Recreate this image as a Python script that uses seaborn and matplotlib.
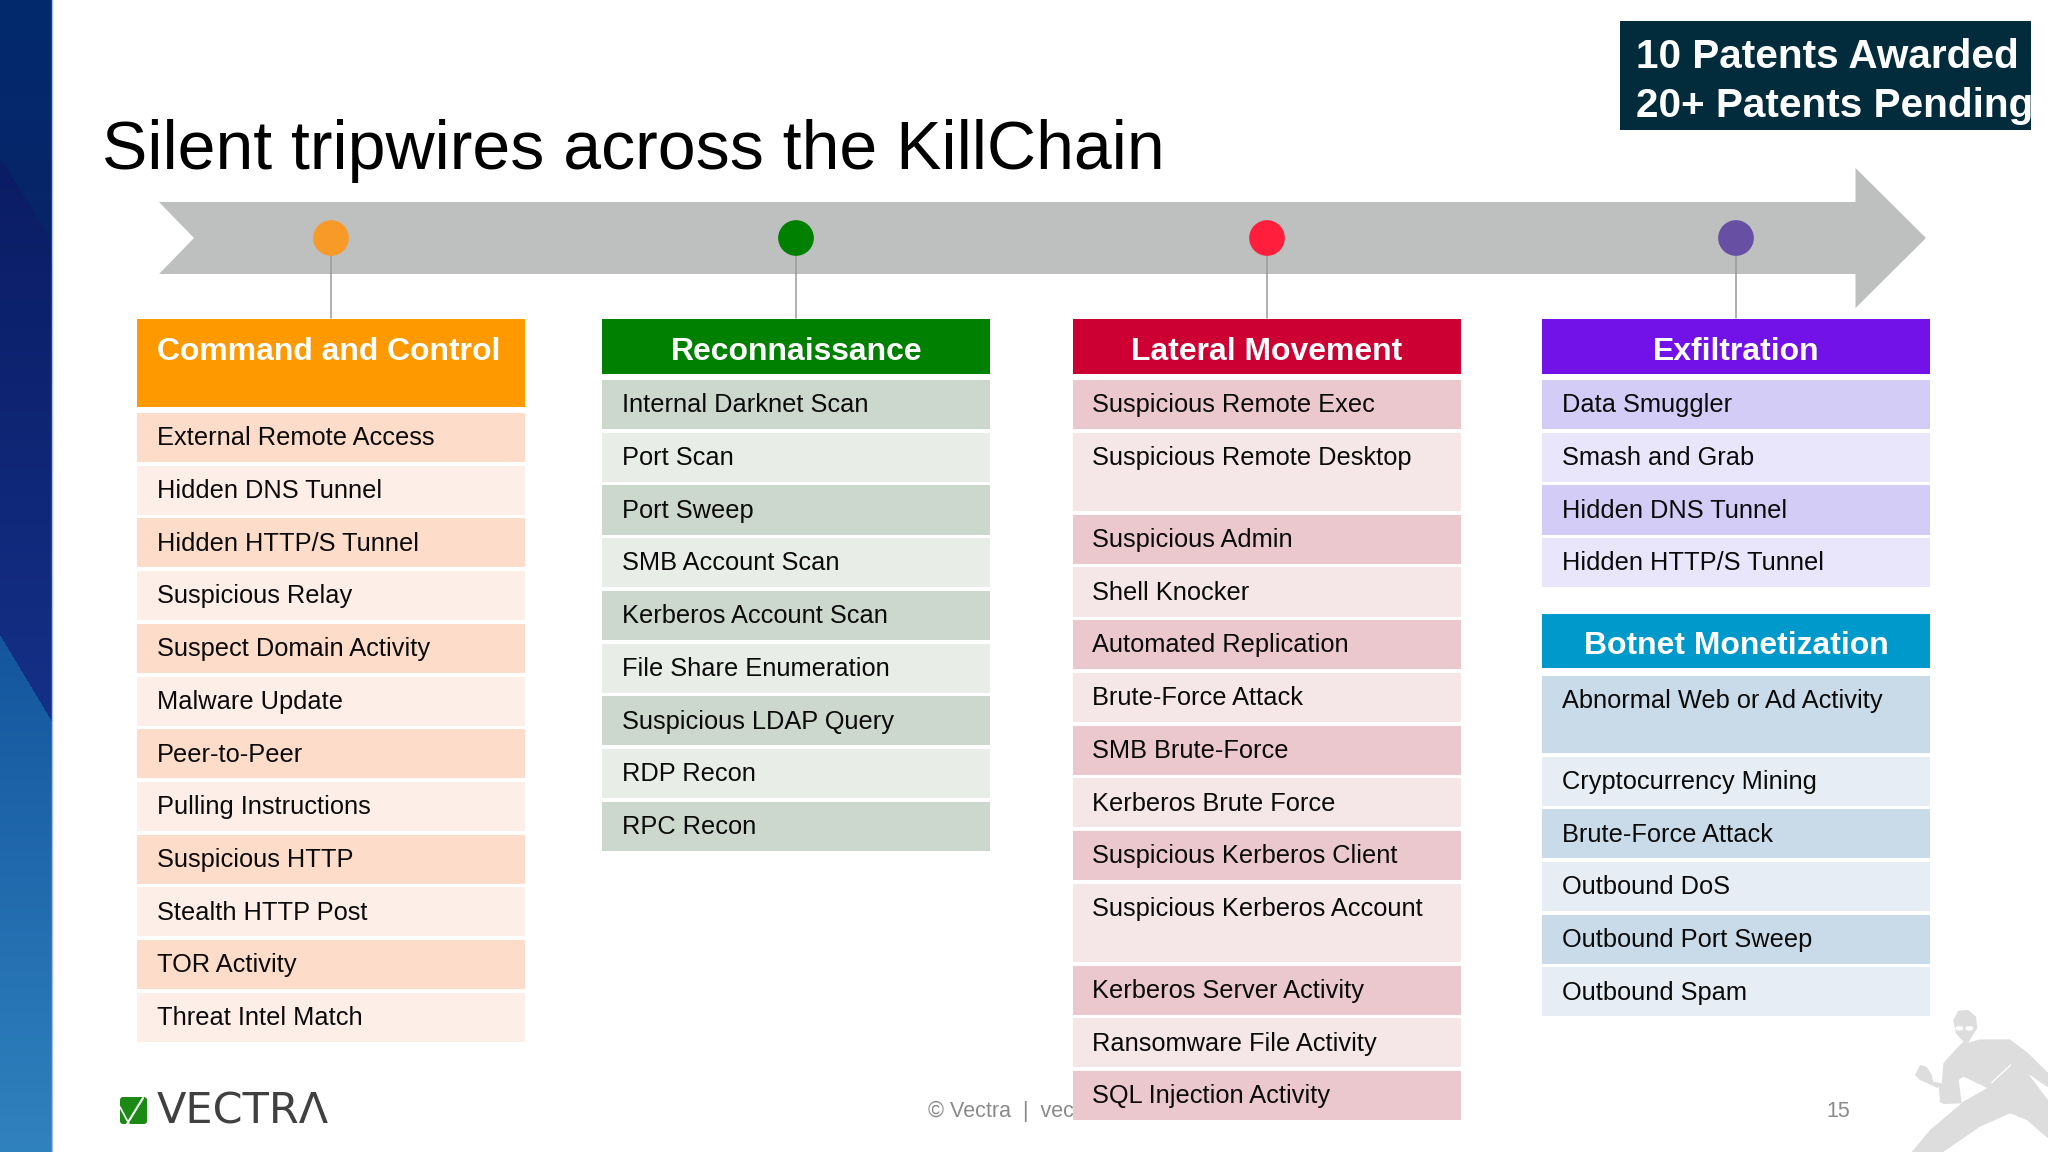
import numpy as np
import pandas as pd
import matplotlib
matplotlib.use("Agg")
import matplotlib.pyplot as plt
from matplotlib.patches import Polygon, Ellipse, FancyBboxPatch
import seaborn as sns

TITLE = "Silent tripwires across the KillChain"
PATENTS = ["10 Patents Awarded", "20+ Patents Pending"]

command_control = ["External Remote Access", "Hidden DNS Tunnel", "Hidden HTTP/S Tunnel", "Suspicious Relay",
                   "Suspect Domain Activity", "Malware Update", "Peer-to-Peer", "Pulling Instructions",
                   "Suspicious HTTP", "Stealth HTTP Post", "TOR Activity", "Threat Intel Match"]
reconnaissance = ["Internal Darknet Scan", "Port Scan", "Port Sweep", "SMB Account Scan", "Kerberos Account Scan",
                  "File Share Enumeration", "Suspicious LDAP Query", "RDP Recon", "RPC Recon"]
lateral_movement = ["Suspicious Remote Exec", "Suspicious Remote Desktop", "Suspicious Admin", "Shell Knocker",
                    "Automated Replication", "Brute-Force Attack", "SMB Brute-Force", "Kerberos Brute Force",
                    "Suspicious Kerberos Client", "Suspicious Kerberos Account", "Kerberos Server Activity",
                    "Ransomware File Activity", "SQL Injection Activity"]
exfiltration = ["Data Smuggler", "Smash and Grab", "Hidden DNS Tunnel", "Hidden HTTP/S Tunnel"]
botnet = ["Abnormal Web or Ad Activity", "Cryptocurrency Mining", "Brute-Force Attack", "Outbound DoS",
          "Outbound Port Sweep", "Outbound Spam"]
tall_rows = {"Suspicious Remote Desktop": 82, "Suspicious Kerberos Account": 82, "Abnormal Web or Ad Activity": 80.5}

# name, rows, left, header top, header height, row start, header colour, dark band, light band, centred title
groups = [
    ("Command and Control", command_control, 137, 319, 88, 413, "#FF9900", "#FDDCC9", "#FEEEE8", False),
    ("Reconnaissance", reconnaissance, 602, 319, 54.5, 380, "#008000", "#CCD8CE", "#E9EDE8", True),
    ("Lateral Movement", lateral_movement, 1072.5, 319, 54.5, 380, "#CC0033", "#EAC8CE", "#F5E6E8", True),
    ("Exfiltration", exfiltration, 1542, 319, 54.5, 380, "#7211E8", "#D3CCF6", "#E9E6FB", True),
    ("Botnet Monetization", botnet, 1542, 614, 54, 676, "#0099CC", "#C9DAE8", "#E7EDF5", True),
]
COL_W = 388
PITCH = 52.7
GAP = 3.6

dots = pd.DataFrame({"x": [331, 796, 1267, 1736], "y": [238] * 4,
                     "c": ["#F79A27", "#008000", "#FF1F3D", "#6750A4"]})

sns.set_theme(style="white")
plt.rcParams["font.family"] = ["Liberation Sans", "DejaVu Sans"]

fig = plt.figure(figsize=(20.48, 11.52), dpi=100, facecolor="white")
ax = fig.add_axes([0, 0, 1, 1])
ax.set_axis_off()


def bar(y0, h, x0, w, color, z=2):
    sns.barplot(x=[w], y=[y0 + h / 2], orient="y", native_scale=True, width=h, left=x0,
                color=color, saturation=1, linewidth=0, errorbar=None, zorder=z, ax=ax)


# left band
H = 1152
yy, xx = np.mgrid[0:H, 0:52]
def lerp(a, b, t):
    return np.asarray(a)[None, None, :] * (1 - t[..., None]) + np.asarray(b)[None, None, :] * t[..., None]
upper = lerp((3, 42, 110), (8, 36, 104), np.clip(yy / 240, 0, 1))
mid = lerp((10, 28, 100), (20, 48, 135), np.clip((yy - 160) / 560, 0, 1))
low = lerp((20, 86, 158), (48, 130, 190), np.clip((yy - 640) / 512, 0, 1))
img = upper.copy()
m1 = yy > 158 + (239 - 158) * xx / 51
m2 = yy > 635 + (720 - 635) * xx / 51
img[m1] = mid[m1]
img[m2] = low[m2]
ax.imshow(img / 255, extent=(0, 52, 1152, 0), aspect="auto", zorder=1, interpolation="bilinear")
ax.plot([51.5, 51.5], [0, 1152], color="#A8BEE0", lw=1, zorder=1.5)

# arrow
ax.add_patch(Polygon([(159, 202), (1855.5, 202), (1855.5, 168), (1926, 238), (1855.5, 308), (1855.5, 274),
                      (159, 274), (194, 238)], closed=True, fc="#BEBFBF", ec="none", zorder=2))

# connectors and dots
for x in dots["x"]:
    ax.plot([x, x], [250, 318], color="#9A9A9A", lw=1.1, zorder=3)
sns.scatterplot(data=dots, x="x", y="y", hue="c", palette=dict(zip(dots["c"], dots["c"])), s=660, linewidth=0,
                legend=False, zorder=4, ax=ax)

# footer behind rows
ax.text(928, 1117, "\u00a9 Vectra  |  vec", fontsize=15.5, color="#8A8A8A", va="baseline", zorder=1.6)
ax.text(1838, 1117, "15", fontsize=15.5, color="#8A8A8A", ha="center", va="baseline", zorder=1.6)

# tables
for name, rows, x0, htop, hh, ystart, hc, dark, light, centred in groups:
    bar(htop, hh, x0, COL_W, hc)
    if centred:
        ax.text(x0 + COL_W / 2 + 0.5, htop + 40.5, name, fontsize=22.95, fontweight="bold", color="white",
                ha="center", va="baseline", zorder=5)
    else:
        ax.text(x0 + 20, htop + 40.5, name, fontsize=22.95, fontweight="bold", color="white",
                ha="left", va="baseline", zorder=5)
    y = ystart
    for i, label in enumerate(rows):
        step = tall_rows.get(label, PITCH)
        bar(y, step - GAP, x0, COL_W, dark if i % 2 == 0 else light)
        ax.text(x0 + 20, y + 32.3, label, fontsize=18.3, color="#0A0A0A", ha="left", va="baseline", zorder=5)
        y += step

# title
ax.text(101.5, 169, TITLE, fontsize=49, color="black", ha="left", va="baseline", zorder=5)

# patents box
bar(21, 109, 1620, 411, "#022C3C")
ax.text(1636, 68, PATENTS[0], fontsize=29.2, fontweight="bold", color="white", va="baseline", zorder=5)
ax.text(1636, 117, PATENTS[1], fontsize=29.2, fontweight="bold", color="white", va="baseline", zorder=5)

# logo
ax.add_patch(FancyBboxPatch((122, 1099), 23, 23, boxstyle="round,pad=2,rounding_size=3", fc="#1B8A14", ec="none", zorder=5))
ax.plot([127, 143], [1124, 1098], color="white", lw=1.5, zorder=6)
ax.plot([120, 129], [1107, 1124], color="white", lw=1.2, zorder=6)
ax.text(157, 1124, "VECTR\u039b", fontsize=31, family=["DejaVu Sans"], color="#404040", va="baseline", zorder=5)

# watermark figure
Z = lambda p: [(1900 + a / 3, 1000 + b / 3) for a, b in p]
GREY = "#DEDDDE"
ax.add_patch(Polygon(Z([(160, 60), (175, 32), (205, 30), (228, 50), (232, 85), (222, 100), (205, 128), (240, 118),
                        (330, 118), (385, 160), (444, 218), (444, 262), (385, 222), (444, 300), (444, 415),
                        (380, 360), (330, 340), (240, 380), (130, 456), (35, 456), (90, 390), (185, 310),
                        (130, 312), (118, 305), (115, 265), (60, 240), (45, 225), (60, 195), (80, 200), (95, 225),
                        (100, 245), (125, 250), (130, 190), (170, 145), (190, 125), (168, 100)]),
                     closed=True, fc=GREY, ec="none", zorder=1.2))
ax.add_patch(Polygon(Z([(176, 240), (190, 230), (262, 264), (185, 308)]), closed=True, fc="white", ec="none", zorder=1.3))
ax.plot(*zip(*Z([(275, 248), (332, 195)])), color="white", lw=1, zorder=1.3)
ax.plot(*zip(*Z([(115, 262), (118, 302)])), color="white", lw=0.8, zorder=1.3)
ax.add_patch(Ellipse((1900 + 178 / 3, 1000 + 85 / 3), 8, 4.5, fc="white", ec="none", zorder=1.3))
ax.add_patch(Ellipse((1900 + 208 / 3, 1000 + 85 / 3), 8, 4.5, fc="white", ec="none", zorder=1.3))

ax.set_xlim(0, 2048)
ax.set_ylim(1152, 0)
ax.set_xlabel("")
ax.set_ylabel("")
fig.savefig("out.png", dpi=100, facecolor="white")
